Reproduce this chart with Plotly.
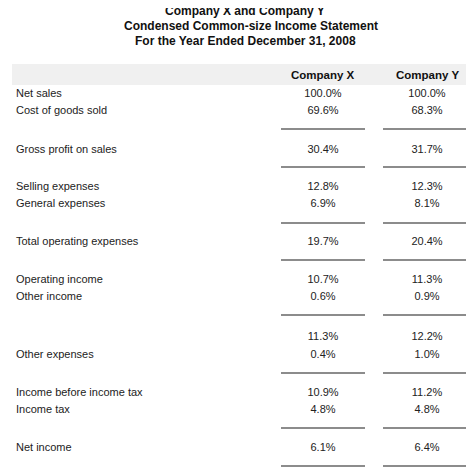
import plotly.graph_objects as go

title_lines = ["Company X and Company Y",
               "Condensed Common-size Income Statement",
               "For the Year Ended December 31, 2008"]
columns = ["Company X", "Company Y"]
labels = ["Net sales", "Cost of goods sold", "Gross profit on sales",
          "Selling expenses", "General expenses", "Total operating expenses",
          "Operating income", "Other income", "", "Other expenses",
          "Income before income tax", "Income tax", "Net income"]
company_x = ["100.0%", "69.6%", "30.4%", "12.8%", "6.9%", "19.7%",
             "10.7%", "0.6%", "11.3%", "0.4%", "10.9%", "4.8%", "6.1%"]
company_y = ["100.0%", "68.3%", "31.7%", "12.3%", "8.1%", "20.4%",
             "11.3%", "0.9%", "12.2%", "1.0%", "11.2%", "4.8%", "6.4%"]

# layout (pixel positions)
row_y = [93, 110, 149, 186, 203, 241, 279, 296, 336, 354, 392, 409, 447]
rule_y = [128, 166, 222, 259, 314, 372, 427, 465]
col_x = [315, 419]
col_span = [(273, 357), (375, 462)]
font = "Liberation Sans, Arial, sans-serif"
dy = -7

fig = go.Figure()
fig.add_trace(go.Scatter(x=[8] * len(labels), y=[y + dy for y in row_y], text=labels,
                         mode="text", textposition="middle right",
                         textfont=dict(family=font, size=11, color="#222")))
for cx, vals in zip(col_x, [company_x, company_y]):
    fig.add_trace(go.Scatter(x=[cx] * len(vals), y=[y + dy for y in row_y], text=vals,
                             mode="text", textposition="middle center",
                             textfont=dict(family=font, size=11, color="#222")))

fig.add_shape(type="rect", x0=4, x1=470, y0=63 + dy, y1=84 + dy,
              fillcolor="#f0f0f0", line_width=0, layer="below")
for cx, name in zip(col_x, columns):
    fig.add_annotation(x=cx, y=74 + dy, text="<b>%s</b>" % name, showarrow=False,
                       font=dict(family=font, size=11.5, color="#111"))
for i, t in enumerate(title_lines):
    fig.add_annotation(x=[237, 243, 237][i], y=10 + i * 15 + dy, text="<b>%s</b>" % t,
                       showarrow=False, font=dict(family=font, size=12, color="#111"))
for ry in rule_y:
    for x0, x1 in col_span:
        fig.add_shape(type="line", x0=x0, x1=x1, y0=ry + dy, y1=ry + dy,
                      line=dict(color="#666", width=1.3))

fig.update_layout(width=474, height=471, margin=dict(l=0, r=0, t=0, b=0),
                  paper_bgcolor="white", plot_bgcolor="white", showlegend=False,
                  xaxis=dict(range=[0, 474], visible=False, fixedrange=True),
                  yaxis=dict(range=[471, 0], visible=False, fixedrange=True))
fig.write_html("out.html", config={"displayModeBar": False})
